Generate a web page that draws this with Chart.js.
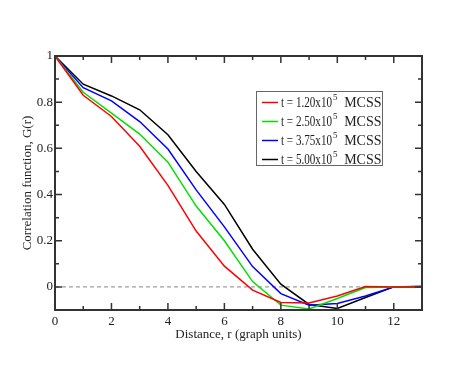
<!DOCTYPE html>
<html>
<head>
<meta charset="utf-8">
<script src="https://cdn.jsdelivr.net/npm/chart.js@4"></script>
<style>
  html, body { margin: 0; padding: 0; background: #fff; }
  #wrap { width: 474px; height: 366px; }
</style>
</head>
<body>
<div id="wrap"><canvas id="corrChart" width="474" height="366"></canvas></div>
<script>
// data
const distance = [0, 1, 2, 3, 4, 5, 6, 7, 8, 9, 10, 11, 12, 13];
const g120 = [1, 0.83, 0.738, 0.609, 0.44, 0.242, 0.09, -0.014, -0.067, -0.07, -0.039, 0.002, 0, 0];
const g250 = [1, 0.843, 0.753, 0.662, 0.54, 0.35, 0.2, 0.023, -0.079, -0.096, -0.05, -0.003, 0, 0];
const g375 = [1, 0.863, 0.806, 0.716, 0.597, 0.42, 0.26, 0.088, -0.029, -0.079, -0.072, -0.039, 0, 0.003];
const g500 = [1, 0.878, 0.827, 0.767, 0.659, 0.5, 0.357, 0.163, 0.012, -0.076, -0.093, -0.046, 0, 0];
const legendTimes = ["1.20", "2.50", "3.75", "5.00"];
const xTicks = [0, 2, 4, 6, 8, 10, 12];
const yTicks = [0, 0.2, 0.4, 0.6, 0.8, 1];

const serif = "'Liberation Serif', 'DejaVu Serif', serif";
const axisColor = "#333";

const toPoints = (ys) => ys.map((y, i) => ({ x: distance[i], y: y }));

// frame, inward ticks, dashed zero line and legend
const framePlugin = {
  id: "frame",
  beforeDatasetsDraw(chart) {
    const { ctx, chartArea: a, scales } = chart;
    const y0 = scales.y.getPixelForValue(0);
    ctx.save();
    ctx.strokeStyle = "#888";
    ctx.lineWidth = 1;
    ctx.setLineDash([4, 3]);
    ctx.beginPath();
    ctx.moveTo(a.left, y0);
    ctx.lineTo(a.right, y0);
    ctx.stroke();
    ctx.restore();
  },
  afterDraw(chart) {
    const { ctx, chartArea: a, scales } = chart;
    ctx.save();
    ctx.strokeStyle = axisColor;
    ctx.lineWidth = 2;
    ctx.strokeRect(a.left, a.top, a.right - a.left, a.bottom - a.top);

    ctx.lineWidth = 1.5;
    ctx.beginPath();
    for (let v = 0; v <= 13; v++) {
      const px = scales.x.getPixelForValue(v);
      const len = v % 2 === 0 ? 7 : 4;
      ctx.moveTo(px, a.bottom); ctx.lineTo(px, a.bottom - len);
      ctx.moveTo(px, a.top); ctx.lineTo(px, a.top + len);
    }
    for (let k = 0; k <= 10; k++) {
      const py = scales.y.getPixelForValue(k / 10);
      const len = k % 2 === 0 ? 7 : 4;
      ctx.moveTo(a.left, py); ctx.lineTo(a.left + len, py);
      ctx.moveTo(a.right, py); ctx.lineTo(a.right - len, py);
    }
    ctx.stroke();

    // legend box
    const bx = 256.5, by = 91.5, bw = 126, bh = 74;
    ctx.fillStyle = "#fff";
    ctx.fillRect(bx, by, bw, bh);
    ctx.strokeStyle = "#666";
    ctx.lineWidth = 1;
    ctx.strokeRect(bx, by, bw, bh);
    chart.data.datasets.forEach((ds, i) => {
      const cy = 102.5 + i * 19;
      ctx.strokeStyle = ds.borderColor;
      ctx.lineWidth = 1.5;
      ctx.beginPath();
      ctx.moveTo(262, cy);
      ctx.lineTo(278, cy);
      ctx.stroke();
      ctx.fillStyle = "#222";
      ctx.textBaseline = "middle";
      ctx.textAlign = "left";
      ctx.font = "14px " + serif;
      ctx.fillText("t = " + legendTimes[i] + "x10", 281, cy + 1, 51);
      ctx.font = "9px " + serif;
      ctx.fillText("5", 333, cy - 5);
      ctx.font = "14px " + serif;
      ctx.textAlign = "right";
      ctx.fillText("MCSS", 381.5, cy + 1);
    });
    ctx.restore();
  }
};

const makeSet = (label, data, color) => ({
  label: label,
  data: toPoints(data),
  borderColor: color,
  backgroundColor: color,
  borderWidth: 1.5,
  pointRadius: 0,
  tension: 0,
  clip: false
});

document.addEventListener("DOMContentLoaded", () => {
  new Chart(document.getElementById("corrChart"), {
    type: "line",
    data: {
      datasets: [
        makeSet("t = 1.20x10^5 MCSS", g120, "#ff0000"),
        makeSet("t = 2.50x10^5 MCSS", g250, "#00e000"),
        makeSet("t = 3.75x10^5 MCSS", g375, "#0000ff"),
        makeSet("t = 5.00x10^5 MCSS", g500, "#000000")
      ]
    },
    options: {
      responsive: false,
      animation: false,
      layout: { padding: { top: 56, right: 52, left: 16, bottom: 22 } },
      plugins: { legend: { display: false }, tooltip: { enabled: false } },
      scales: {
        x: {
          type: "linear",
          min: 0,
          max: 13,
          afterBuildTicks: (s) => { s.ticks = xTicks.map(v => ({ value: v })); },
          afterFit: (s) => { s.height = 34; },
          grid: { display: false, drawTicks: false },
          border: { display: false },
          ticks: { color: "#222", font: { family: serif, size: 13 }, padding: 4, maxRotation: 0 },
          title: {
            display: true,
            text: "Distance, r (graph units)",
            color: "#222",
            font: { family: serif, size: 13 },
            padding: { top: 0, bottom: 2 }
          }
        },
        y: {
          min: -0.1,
          max: 1,
          afterBuildTicks: (s) => { s.ticks = yTicks.map(v => ({ value: v })); },
          afterFit: (s) => { s.width = 39; },
          grid: { display: false, drawTicks: false },
          border: { display: false },
          ticks: {
            color: "#222",
            font: { family: serif, size: 13 },
            padding: 2,
            callback: (v) => String(Math.round(v * 10) / 10)
          },
          title: {
            display: true,
            text: "Correlation function, G(r)",
            color: "#222",
            font: { family: serif, size: 13 },
            padding: { top: 4, bottom: 4 }
          }
        }
      }
    },
    plugins: [framePlugin]
  });
});
</script>
</body>
</html>
